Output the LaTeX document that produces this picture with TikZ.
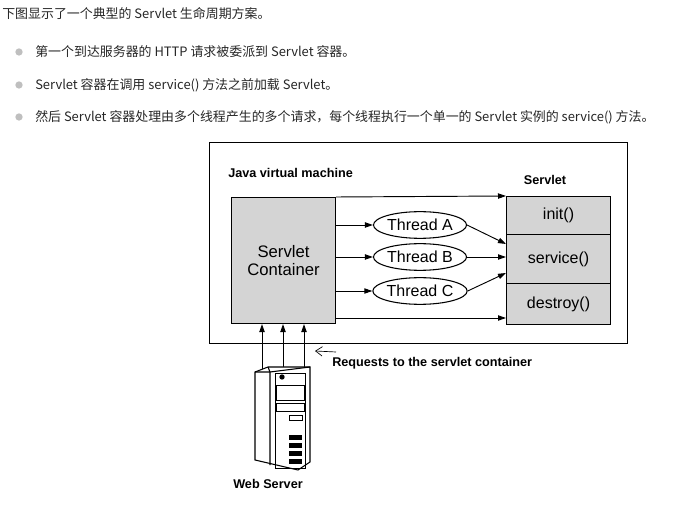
\documentclass[tikz,border=0pt]{standalone}
\usepackage{fontspec}
\setmainfont{Liberation Sans}
\newfontfamily\cjk{Noto Sans CJK SC}
\usetikzlibrary{arrows.meta,shapes.geometric}
\begin{document}
\begin{tikzpicture}[x=0.75pt,y=-0.75pt,
  txt/.style={font=\cjk\fontsize{9.7}{10}\selectfont,anchor=west,inner sep=0,text=black!85},
  bul/.style={circle,fill=black!25,inner sep=0,minimum size=5.5pt},
  box/.style={draw,fill=black!17,line width=0.8pt},
  arr/.style={-{Triangle[length=6pt,width=4pt]},line width=0.7pt},
  th/.style={ellipse,draw,fill=white,line width=0.8pt,minimum width=66pt,minimum height=20pt,inner sep=0,font=\fontsize{12}{12}\selectfont},
  lab/.style={font=\bfseries\fontsize{9.5}{10}\selectfont,inner sep=0}]
\useasboundingbox (0,0) rectangle (674,505);
\node[txt] (t0) at (2,14) {下图显示了一个典型的 Servlet 生命周期方案。};
\node[bul] (b1) at (19,52) {}; \node[txt] (t1) at (35,52) {第一个到达服务器的 HTTP 请求被委派到 Servlet 容器。};
\node[bul] (b2) at (19,85) {}; \node[txt] (t2) at (35,85) {Servlet 容器在调用 service() 方法之前加载 Servlet。};
\node[bul] (b3) at (19,117) {}; \node[txt] (t3) at (35,117) {然后 Servlet 容器处理由多个线程产生的多个请求，每个线程执行一个单一的 Servlet 实例的 service() 方法。};
\draw[line width=0.6pt] (209,142) rectangle (627,343);
\node[lab,anchor=west] (jvm) at (228,173) {Java virtual machine};
\node[lab] (sl) at (545,180) {Servlet};
\node[box,minimum width=78pt,minimum height=94.5pt,anchor=north west,align=center,font=\fontsize{12.5}{14}\selectfont] (cont) at (231,197) {Servlet\\Container};
\node[box,minimum width=78pt,minimum height=28.5pt,anchor=north west,font=\fontsize{12}{12}\selectfont] (init) at (506,196) {init()};
\node[box,minimum width=78pt,minimum height=36.75pt,anchor=north west,font=\fontsize{12}{12}\selectfont] (serv) at (506,234) {service()};
\node[box,minimum width=78pt,minimum height=30.75pt,anchor=north west,font=\fontsize{12}{12}\selectfont] (dest) at (506,283) {destroy()};
\node[th] (ta) at (420,225) {Thread A};
\node[th] (tb) at (420,257) {Thread B};
\node[th] (tc) at (420,291) {Thread C};
\draw[arr] (cont.north east) -- (init.north west);
\draw[arr] (cont.east |- ta) -- (ta.west);
\draw[arr] (cont.east |- tb) -- (tb.west);
\draw[arr] (cont.east |- tc) -- (tc.west);
\draw[arr] (cont.east |- 0,318) -- (dest.west |- 0,318);
\draw[arr] (ta.east) -- (serv.west |- 0,244);
\draw[arr] (tb.east) -- (serv.west |- tb);
\draw[arr] (tc.east) -- (serv.west |- 0,273);
% server tower
\coordinate (s1) at (262,372);
\coordinate (s2) at (283,372);
\coordinate (s3) at (304,372);
\draw[arr] (s1) -- (cont.south west -| s1);
\draw[arr] (s2) -- (cont.south west -| s2);
\draw[arr] (s3) -- (cont.south west -| s3);
\draw[line width=0.8pt,fill=white] (255,372) -- (268,367) -- (310,367) -- (310,462) -- (298,470) -- (255,460) -- cycle;
\draw[line width=0.8pt] (268,367) -- (270,372) -- (270,465);
\draw[line width=0.8pt] (255,372) -- (270,372) -- (310,367);
\draw[line width=0.6pt] (275,373) rectangle (305,468);
\draw[line width=0.6pt] (276,385) rectangle (304,400);
\draw[line width=0.6pt] (276,403) rectangle (304,411);
\draw[line width=0.6pt] (289,415) rectangle (302,420);
\foreach \y in {435,443,451,459} \fill (289,\y) rectangle (302,\y+5);
\fill (282,377) circle (2pt);
\coordinate (rq) at (336,352);
\draw[-{Straight Barb[length=5pt,width=7pt]},line width=0.5pt] (rq) -- (315,351);
\node[lab,anchor=west] (rl) at (332,363) {Requests to the servlet container};
\node[lab] (ws) at (268,484) {Web Server};
\end{tikzpicture}
\end{document}
